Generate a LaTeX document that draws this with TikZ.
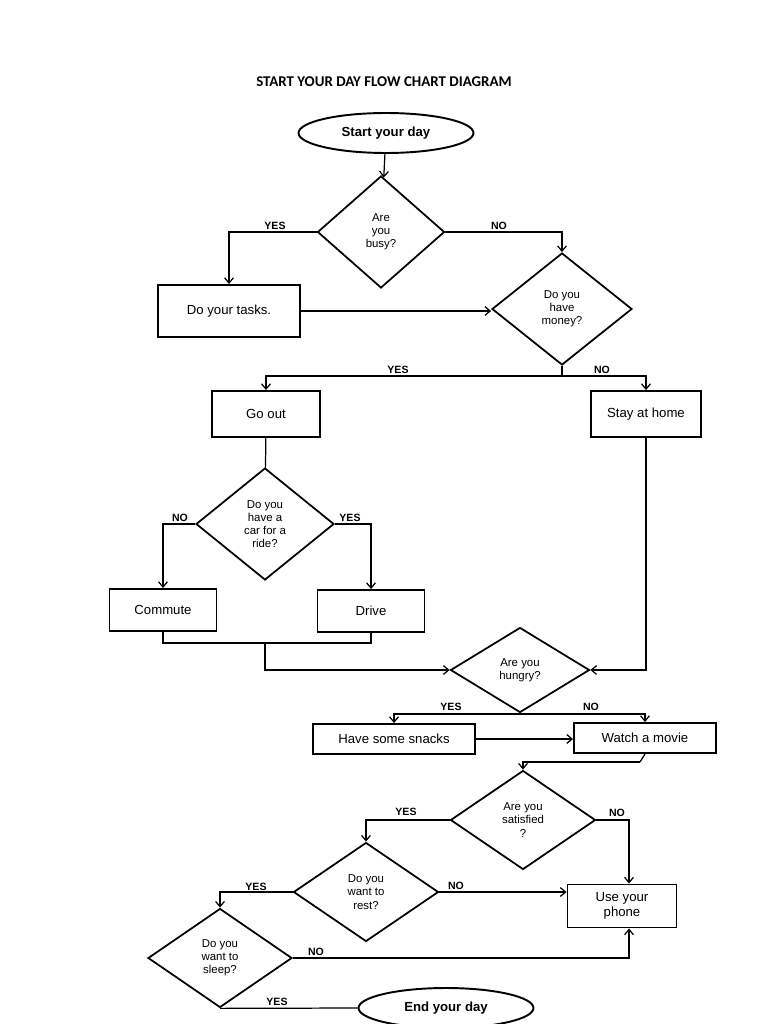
\documentclass[tikz,border=0pt]{standalone}
\usepackage{fontspec}
\setmainfont{Liberation Sans}
\newfontfamily\titlefont{Carlito}
\usetikzlibrary{shapes.geometric,arrows.meta}

\begin{document}
\begin{tikzpicture}[x=0.02cm,y=-0.02cm]

	\tikzstyle{box}=[draw,rectangle,line width=1.1pt,align=center,font=\fontsize{7.5}{8.5}\selectfont]
	\tikzstyle{question}=[draw,diamond,line width=1pt,inner sep=0pt,align=center,font=\fontsize{6.5}{7.5}\selectfont]
	\tikzstyle{terminal}=[draw,ellipse,line width=1.1pt,minimum width=3.5cm,minimum height=0.8cm,font=\bfseries\fontsize{7.5}{8.5}\selectfont]
	\tikzstyle{lbl}=[font=\bfseries\fontsize{6}{7}\selectfont,inner sep=1pt]
	\tikzstyle{flow}=[line width=0.7pt,-{Straight Barb[length=3pt,width=5pt]}]
	\tikzstyle{plain}=[line width=0.7pt]

	\useasboundingbox (0,0) rectangle (768,1024);

	\node[font=\titlefont\bfseries\fontsize{8.5}{10}\selectfont] (title) at (384,82) {START YOUR DAY FLOW CHART DIAGRAM};

	\node[terminal] (start) at (386,133) {Start your day};
	\node[question,minimum width=2.54cm,minimum height=2.24cm] (busy) at (381,232) {Are\\you\\busy?};
	\node[box,minimum width=2.84cm,minimum height=1.04cm] (tasks) at (229,311) {Do your tasks.};
	\node[question,minimum width=2.8cm,minimum height=2.24cm] (money) at (562,309) {Do you\\have\\money?};
	\node[box,minimum width=2.16cm,minimum height=0.92cm] (goout) at (266,414) {Go out};
	\node[box,minimum width=2.2cm,minimum height=0.92cm] (home) at (646,414) {Stay at home};
	\node[question,minimum width=2.76cm,minimum height=2.24cm] (car) at (265,524) {Do you\\have a\\car for a\\ride?};
	\node[box,minimum width=2.14cm,minimum height=0.84cm] (commute) at (163,610) {Commute};
	\node[box,minimum width=2.14cm,minimum height=0.84cm] (drive) at (371,611) {Drive};
	\node[question,minimum width=2.78cm,minimum height=1.7cm] (hungry) at (520,670) {Are you\\hungry?};
	\node[box,minimum width=3.24cm,minimum height=0.6cm] (snacks) at (394,739) {Have some snacks};
	\node[box,minimum width=2.84cm,minimum height=0.6cm] (movie) at (645,738) {Watch a movie};
	\node[question,minimum width=2.9cm,minimum height=1.98cm] (satisfied) at (523,820) {Are you\\satisfied\\?};
	\node[question,minimum width=2.9cm,minimum height=1.98cm] (rest) at (366,892) {Do you\\want to\\rest?};
	\node[box,minimum width=2.18cm,minimum height=0.86cm] (phone) at (622,906) {Use your\\phone};
	\node[question,minimum width=2.88cm,minimum height=1.98cm] (sleep) at (220,958) {Do you\\want to\\sleep?};
	\node[terminal] (end) at (446,1008) {End your day};

	\coordinate (split1) at (562,376);
	\coordinate (merge1) at (265,643);
	\coordinate (split2) at (520,714);
	\coordinate (turn1) at (640,762);

	\draw[flow] (start) -- (busy);
	\draw[flow] (busy.west) -| (tasks.north);
	\draw[flow] (busy.east) -| (money.north);
	\draw[flow] (tasks.east) -- (tasks.east -| money.west);
	\draw[plain] (money.south) -- (split1);
	\draw[flow] (split1) -| (goout.north);
	\draw[flow] (split1) -| (home.north);
	\draw[plain] (goout) -- (car);
	\draw[flow] (car.west) -| (commute.north);
	\draw[flow] (car.east) -| (drive.north);
	\draw[plain] (commute.south) |- (merge1) -| (drive.south);
	\draw[flow] (merge1) |- (hungry.west);
	\draw[flow] (home.south) |- (hungry.east);
	\draw[plain] (hungry.south) -- (split2);
	\draw[flow] (split2) -| (snacks.north);
	\draw[flow] (split2) -| (movie.north);
	\draw[flow] (snacks.east) -- (snacks.east -| movie.west);
	\draw[plain] (movie.south) -- (turn1);
	\draw[flow] (turn1) -| (satisfied.north);
	\draw[flow] (satisfied.west) -| (rest.north);
	\draw[flow,{Straight Barb[length=3pt,width=5pt]}-] ([xshift=4]phone.north) |- (satisfied.east);
	\draw[flow] (rest.east) -- (rest.east -| phone.west);
	\draw[flow] (rest.west) -| (sleep.north);
	\draw[flow] (sleep.east) -| ([xshift=4]phone.south);
	\draw[plain] (sleep.south) -- (end.west);

	\node[lbl] (l1) at (275,226) {YES};
	\node[lbl] (l2) at (499,226) {NO};
	\node[lbl] (l3) at (398,370) {YES};
	\node[lbl] (l4) at (602,370) {NO};
	\node[lbl] (l5) at (180,518) {NO};
	\node[lbl] (l6) at (350,518) {YES};
	\node[lbl] (l7) at (451,707) {YES};
	\node[lbl] (l8) at (591,707) {NO};
	\node[lbl] (l9) at (406,812) {YES};
	\node[lbl] (l10) at (617,813) {NO};
	\node[lbl] (l11) at (456,886) {NO};
	\node[lbl] (l12) at (256,887) {YES};
	\node[lbl] (l13) at (316,952) {NO};
	\node[lbl] (l14) at (277,1002) {YES};

\end{tikzpicture}
\end{document}
